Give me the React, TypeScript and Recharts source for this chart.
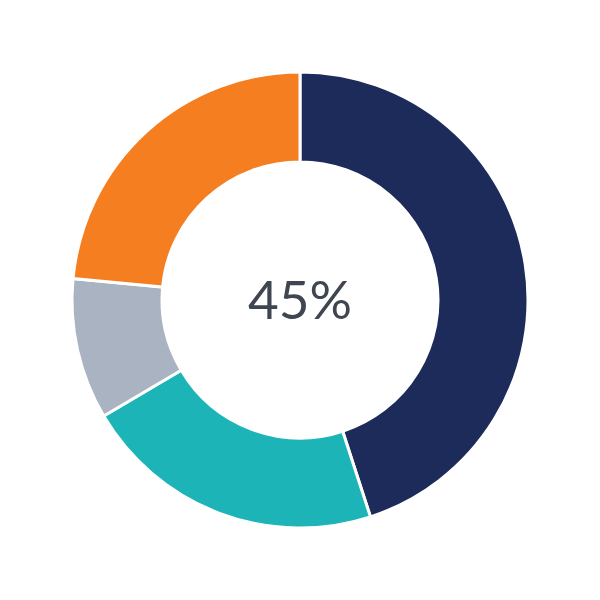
import { PieChart, Pie, Cell, Label } from "recharts";

// share of each segment, clockwise from 12 o'clock
const segments = ["Primary", "Teal", "Gray", "Orange"];
const shares = [45, 21.5, 10, 23.5];
const colors = ["#1c2b5a", "#1db4b8", "#a9b3c2", "#f47e20"];
const centerLabel = "45%";

const data = segments.map((name, i) => ({ name, value: shares[i] }));

export default function App() {
  return (
    <PieChart width={584} height={584}>
      <Pie
        data={data}
        dataKey="value"
        cx={287}
        cy={287}
        innerRadius={138}
        outerRadius={228}
        startAngle={90}
        endAngle={-270}
        stroke="#ffffff"
        strokeWidth={3}
        isAnimationActive={false}
      >
        {data.map((d, i) => (
          <Cell key={d.name} fill={colors[i]} />
        ))}
        <Label
          value={centerLabel}
          position="center"
          fill="#3f4650"
          style={{ fontFamily: "Lato, sans-serif", fontSize: 53 }}
        />
      </Pie>
    </PieChart>
  );
}
